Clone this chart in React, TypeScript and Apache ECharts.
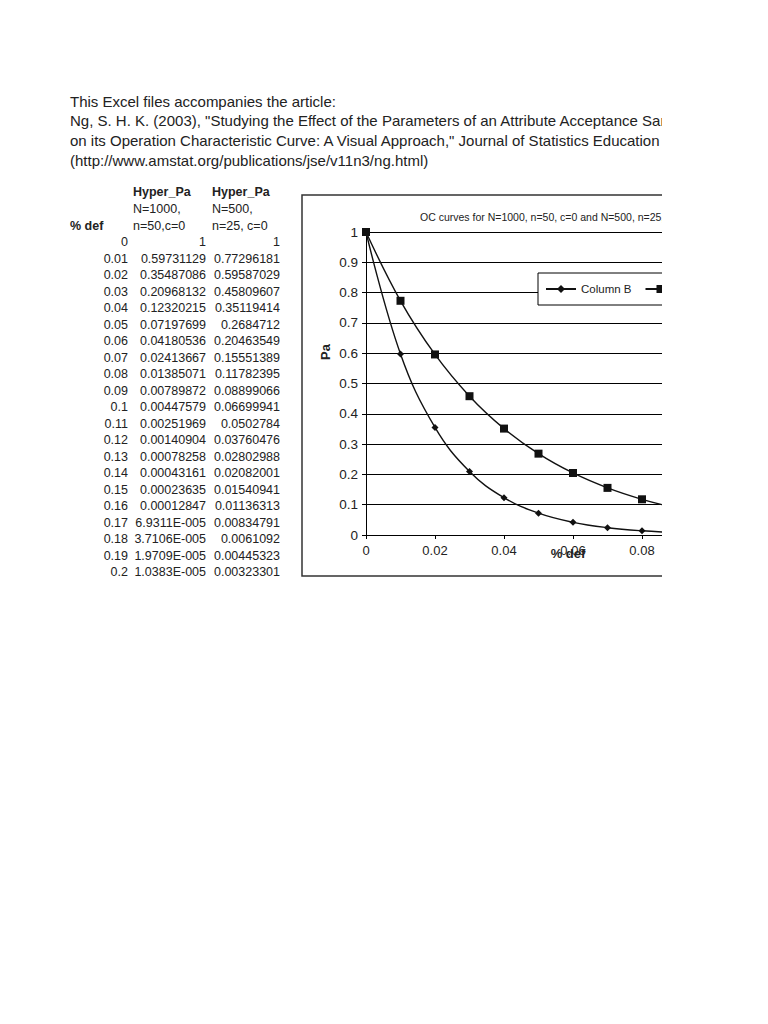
import React, { useEffect, useRef } from "react";
import * as echarts from "echarts";

const headerLines = [
  "This Excel files accompanies the article:",
  'Ng, S. H. K. (2003), "Studying the Effect of the Parameters of an Attribute Acceptance Sampling Plan',
  'on its Operation Characteristic Curve: A Visual Approach," Journal of Statistics Education',
  "(http://www.amstat.org/publications/jse/v11n3/ng.html)",
];

const pctDef = ["0", "0.01", "0.02", "0.03", "0.04", "0.05", "0.06", "0.07", "0.08", "0.09", "0.1", "0.11", "0.12", "0.13", "0.14", "0.15", "0.16", "0.17", "0.18", "0.19", "0.2"];
const colB = ["1", "0.59731129", "0.35487086", "0.20968132", "0.12320215", "0.07197699", "0.04180536", "0.02413667", "0.01385071", "0.00789872", "0.00447579", "0.00251969", "0.00140904", "0.00078258", "0.00043161", "0.00023635", "0.00012847", "6.9311E-005", "3.7106E-005", "1.9709E-005", "1.0383E-005"];
const colC = ["1", "0.77296181", "0.59587029", "0.45809607", "0.35119414", "0.2684712", "0.20463549", "0.15551389", "0.11782395", "0.08899066", "0.06699941", "0.0502784", "0.03760476", "0.02802988", "0.02082001", "0.01540941", "0.01136313", "0.00834791", "0.0061092", "0.00445323", "0.00323301"];

const colHeaders = [
  ["Hyper_Pa", "N=1000,", "n=50,c=0"],
  ["Hyper_Pa", "N=500,", "n=25, c=0"],
];
const seriesNames = ["Column B", "Column C"];
const chartTitle = "OC curves for N=1000, n=50, c=0 and N=500, n=25, c=0";
const yTitle = "Pa";
const xTitle = "% def";

const FONT = "'Liberation Sans', Arial, sans-serif";
const TXT = "#222";

export default function App() {
  const ref = useRef<HTMLDivElement>(null);
  useEffect(() => {
    if (!ref.current) return;
    const chart = echarts.init(ref.current, undefined, { renderer: "svg" });
    const graphics: any[] = [];
    headerLines.forEach((t, i) => {
      graphics.push({
        type: "text",
        x: 70,
        y: 101 + i * 19.7,
        style: { text: t, font: `15px ${FONT}`, fill: TXT, verticalAlign: "middle" },
      });
    });
    const hx = [133, 212];
    colHeaders.forEach((h, c) => {
      h.forEach((t, r) => {
        graphics.push({
          type: "text",
          x: hx[c],
          y: 192 + r * 17,
          style: {
            text: t,
            font: `${r === 0 ? "bold " : ""}12.5px ${FONT}`,
            fill: TXT,
            verticalAlign: "middle",
          },
        });
      });
    });
    graphics.push({
      type: "text",
      x: 70,
      y: 226,
      style: { text: "% def", font: `bold 12.5px ${FONT}`, fill: TXT, verticalAlign: "middle" },
    });
    const colsRight = [128, 206, 280];
    [pctDef, colB, colC].forEach((col, c) => {
      col.forEach((t, r) => {
        graphics.push({
          type: "text",
          x: colsRight[c],
          y: 242 + r * 16.5,
          style: { text: t, font: `12.5px ${FONT}`, fill: TXT, align: "right", verticalAlign: "middle" },
        });
      });
    });
    // chart frame
    graphics.push({
      type: "rect",
      z: -1,
      shape: { x: 302, y: 195, width: 520, height: 381 },
      style: { fill: "none", stroke: "#333", lineWidth: 1.5 },
    });
    graphics.push({
      type: "text",
      x: 420,
      y: 217,
      style: { text: chartTitle, font: `10.5px ${FONT}`, fill: TXT, verticalAlign: "middle" },
    });
    graphics.push({
      type: "text",
      x: 325,
      y: 352,
      rotation: Math.PI / 2,
      style: { text: yTitle, font: `bold 13px ${FONT}`, fill: TXT, align: "center", verticalAlign: "middle" },
    });
    graphics.push({
      type: "text",
      x: 568,
      y: 553,
      z: 50,
      style: { text: xTitle, font: `bold 13px ${FONT}`, fill: TXT, align: "center", verticalAlign: "middle" },
    });

    const xVals = pctDef.map(Number);
    const bData = colB.map((v, i) => [xVals[i], Number(v)]);
    const cData = colC.map((v, i) => [xVals[i], Number(v)]);

    chart.setOption({
      animation: false,
      backgroundColor: "#fff",
      textStyle: { fontFamily: FONT },
      grid: { left: 366, top: 232, height: 303, width: 386.4 },
      legend: {
        left: 538,
        top: 273,
        orient: "horizontal",
        padding: [10, 7, 10, 7],
        itemWidth: 30,
        itemHeight: 10,
        itemGap: 13,
        borderColor: "#000",
        borderWidth: 1,
        backgroundColor: "#fff",
        textStyle: { color: TXT, fontSize: 11.5, fontFamily: FONT },
        data: seriesNames,
      },
      xAxis: {
        type: "value",
        min: 0,
        max: 0.112,
        interval: 0.02,
        axisLine: { show: true, onZero: false, lineStyle: { color: "#000", width: 1 } },
        axisTick: { show: true, inside: false, length: 4, lineStyle: { color: "#000" } },
        axisLabel: { color: TXT, fontSize: 13, fontFamily: FONT, margin: 9, showMaxLabel: false },
        splitLine: { show: false },
      },
      yAxis: {
        type: "value",
        min: 0,
        max: 1,
        interval: 0.1,
        axisLine: { show: true, lineStyle: { color: "#000", width: 1 } },
        axisTick: { show: true, inside: false, length: 4, lineStyle: { color: "#000" } },
        axisLabel: { color: TXT, fontSize: 13.5, fontFamily: FONT, margin: 8 },
        splitLine: { show: true, lineStyle: { color: "#000", width: 1 } },
      },
      series: [
        {
          name: seriesNames[0],
          type: "line",
          data: bData,
          smooth: 0.4,
          symbol: "diamond",
          symbolSize: 7,
          itemStyle: { color: "#111" },
          lineStyle: { color: "#111", width: 1.4 },
          clip: true,
        },
        {
          name: seriesNames[1],
          type: "line",
          data: cData,
          smooth: 0.4,
          symbol: "rect",
          symbolSize: 8,
          itemStyle: { color: "#111" },
          lineStyle: { color: "#111", width: 1.4 },
          clip: true,
        },
      ],
      graphic: graphics,
    });
    return () => chart.dispose();
  }, []);
  return (
    <div style={{ position: "absolute", left: 0, top: 0, width: 662, height: 1024, overflow: "hidden", background: "#fff" }}>
      <div ref={ref} style={{ width: 768, height: 1024 }} />
    </div>
  );
}
